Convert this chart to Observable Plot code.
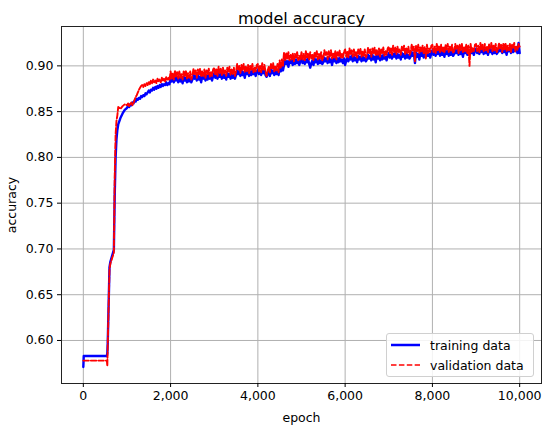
<!DOCTYPE html>
<html>
<head>
<meta charset="utf-8">
<script src="https://cdn.jsdelivr.net/npm/d3@7"></script>
<script src="https://cdn.jsdelivr.net/npm/@observablehq/plot@0.6"></script>
<style>
  html, body { margin: 0; padding: 0; background: #fff; }
  #wrap { position: relative; width: 550px; height: 432px; font-family: "DejaVu Sans", sans-serif; }
  #legend {
    position: absolute; left: 386px; top: 333px; width: 146px; height: 42px;
    border: 1px solid #d0d0d0; border-radius: 3px; background: rgba(255,255,255,0.85);
    font-size: 12.5px; color: #000;
  }
  .row { position: absolute; left: 0; height: 18px; display: flex; align-items: center; }
  .row svg { margin-left: 4px; margin-right: 10px; }
</style>
</head>
<body>
<div id="wrap"></div>
<script>
const title = "model accuracy";
const xLabel = "epoch";
const yLabel = "accuracy";
const seriesNames = ["training data", "validation data"];
const xTicks = [0, 2000, 4000, 6000, 8000, 10000];
const yTicks = [0.60, 0.65, 0.70, 0.75, 0.80, 0.85, 0.90];

// epochs: sparse at the start, then every 25 epochs
const epochsEarly = [0, 10, 540, 550, 560, 600, 620, 700, 720, 740, 760, 780, 800, 850, 900, 950];
const epochsLate = d3.range(1000, 10001, 25);
const epochs = epochsEarly.concat(epochsLate);

const trainAcc = [
  0.571, 0.583, 0.583, 0.586, 0.598, 0.680, 0.686, 0.699, 0.760, 0.800, 0.820, 0.830, 0.836, 0.843, 0.848, 0.852,
  0.854, 0.856, 0.855, 0.858, 0.857, 0.860, 0.859, 0.862, 0.861, 0.864, 0.863, 0.865, 0.864, 0.867, 0.866, 0.868, 0.867, 0.870, 0.869, 0.871,
  0.873, 0.871, 0.874, 0.873, 0.876, 0.874, 0.877, 0.875, 0.878, 0.876, 0.879, 0.877, 0.880, 0.878, 0.880, 0.879, 0.882, 0.879, 0.881, 0.880,
  0.888, 0.883, 0.886, 0.882, 0.887, 0.884, 0.888, 0.882, 0.887, 0.883, 0.886, 0.881, 0.888, 0.884, 0.887, 0.882, 0.888, 0.883, 0.886, 0.882,
  0.885, 0.890, 0.886, 0.889, 0.884, 0.890, 0.885, 0.888, 0.882, 0.889, 0.886, 0.890, 0.884, 0.889, 0.885, 0.890, 0.886, 0.888, 0.884, 0.889,
  0.892, 0.887, 0.890, 0.886, 0.891, 0.888, 0.892, 0.886, 0.891, 0.887, 0.890, 0.885, 0.892, 0.888, 0.891, 0.886, 0.892, 0.887, 0.890, 0.886,
  0.890, 0.895, 0.891, 0.894, 0.889, 0.895, 0.890, 0.893, 0.887, 0.894, 0.891, 0.895, 0.889, 0.894, 0.890, 0.895, 0.891, 0.893, 0.889, 0.894,
  0.896, 0.891, 0.894, 0.890, 0.895, 0.892, 0.896, 0.890, 0.888, 0.891, 0.894, 0.889, 0.896, 0.892, 0.895, 0.890, 0.896, 0.891, 0.894, 0.890,
  0.898, 0.894, 0.899, 0.895, 0.901, 0.907, 0.902, 0.905, 0.899, 0.906, 0.903, 0.907, 0.901, 0.906, 0.902, 0.907, 0.903, 0.905, 0.901, 0.906,
  0.908, 0.903, 0.906, 0.902, 0.907, 0.904, 0.908, 0.902, 0.898, 0.903, 0.906, 0.901, 0.908, 0.904, 0.907, 0.902, 0.908, 0.903, 0.906, 0.902,
  0.904, 0.909, 0.905, 0.908, 0.903, 0.909, 0.904, 0.907, 0.901, 0.908, 0.905, 0.909, 0.903, 0.908, 0.904, 0.909, 0.905, 0.907, 0.903, 0.908,
  0.901, 0.906, 0.909, 0.905, 0.910, 0.907, 0.911, 0.905, 0.910, 0.906, 0.909, 0.904, 0.911, 0.907, 0.910, 0.905, 0.911, 0.906, 0.909, 0.905,
  0.907, 0.912, 0.908, 0.911, 0.906, 0.912, 0.907, 0.910, 0.904, 0.911, 0.908, 0.912, 0.906, 0.911, 0.907, 0.912, 0.908, 0.910, 0.906, 0.911,
  0.914, 0.909, 0.912, 0.908, 0.913, 0.910, 0.914, 0.908, 0.913, 0.909, 0.912, 0.907, 0.914, 0.910, 0.913, 0.908, 0.914, 0.909, 0.912, 0.908,
  0.910, 0.915, 0.911, 0.914, 0.903, 0.915, 0.910, 0.913, 0.907, 0.914, 0.911, 0.915, 0.909, 0.914, 0.910, 0.915, 0.911, 0.913, 0.909, 0.914,
  0.917, 0.912, 0.915, 0.911, 0.916, 0.913, 0.917, 0.911, 0.916, 0.912, 0.915, 0.910, 0.917, 0.913, 0.916, 0.911, 0.917, 0.912, 0.915, 0.911,
  0.913, 0.918, 0.914, 0.917, 0.912, 0.918, 0.913, 0.916, 0.910, 0.917, 0.914, 0.918, 0.912, 0.917, 0.913, 0.918, 0.914, 0.916, 0.912, 0.917,
  0.919, 0.914, 0.917, 0.913, 0.918, 0.915, 0.919, 0.913, 0.918, 0.914, 0.917, 0.912, 0.919, 0.915, 0.918, 0.913, 0.919, 0.914, 0.917, 0.913,
  0.915, 0.920, 0.916, 0.919, 0.914, 0.920, 0.915, 0.918, 0.912, 0.919, 0.916, 0.920, 0.914, 0.919, 0.915, 0.920, 0.916, 0.918, 0.914, 0.925,
  0.914
];

const valAcc = [
  0.578, 0.578, 0.578, 0.572, 0.596, 0.678, 0.684, 0.696, 0.780, 0.825, 0.840, 0.846, 0.855, 0.853, 0.856, 0.858,
  0.857, 0.859, 0.856, 0.858, 0.860, 0.857, 0.859, 0.863, 0.866, 0.868, 0.871, 0.874, 0.876, 0.878, 0.879, 0.877, 0.880, 0.878, 0.881, 0.879,
  0.883, 0.880, 0.884, 0.881, 0.885, 0.882, 0.884, 0.881, 0.886, 0.883, 0.885, 0.882, 0.887, 0.884, 0.886, 0.883, 0.888, 0.885, 0.887, 0.884,
  0.894, 0.886, 0.892, 0.885, 0.895, 0.888, 0.893, 0.886, 0.894, 0.887, 0.891, 0.885, 0.894, 0.889, 0.895, 0.886, 0.892, 0.887, 0.894, 0.885,
  0.889, 0.897, 0.891, 0.895, 0.887, 0.896, 0.890, 0.897, 0.888, 0.894, 0.889, 0.896, 0.887, 0.895, 0.891, 0.897, 0.888, 0.893, 0.889, 0.896,
  0.898, 0.890, 0.896, 0.889, 0.899, 0.892, 0.897, 0.890, 0.898, 0.891, 0.895, 0.889, 0.898, 0.893, 0.899, 0.890, 0.896, 0.891, 0.898, 0.889,
  0.894, 0.902, 0.896, 0.900, 0.892, 0.901, 0.895, 0.902, 0.893, 0.899, 0.894, 0.901, 0.892, 0.900, 0.896, 0.902, 0.893, 0.898, 0.894, 0.901,
  0.902, 0.894, 0.900, 0.893, 0.903, 0.896, 0.901, 0.894, 0.889, 0.895, 0.899, 0.893, 0.902, 0.897, 0.903, 0.894, 0.900, 0.895, 0.902, 0.893,
  0.906, 0.898, 0.907, 0.900, 0.915, 0.906, 0.914, 0.908, 0.915, 0.906, 0.912, 0.907, 0.914, 0.905, 0.913, 0.909, 0.915, 0.906, 0.911, 0.907,
  0.915, 0.907, 0.913, 0.906, 0.916, 0.909, 0.914, 0.907, 0.915, 0.908, 0.912, 0.906, 0.915, 0.910, 0.916, 0.907, 0.913, 0.908, 0.915, 0.906,
  0.909, 0.917, 0.911, 0.915, 0.907, 0.916, 0.910, 0.917, 0.908, 0.914, 0.909, 0.916, 0.907, 0.915, 0.911, 0.917, 0.908, 0.913, 0.909, 0.916,
  0.918, 0.910, 0.916, 0.909, 0.919, 0.912, 0.917, 0.910, 0.918, 0.911, 0.915, 0.909, 0.918, 0.913, 0.919, 0.910, 0.916, 0.911, 0.918, 0.909,
  0.912, 0.920, 0.914, 0.918, 0.910, 0.919, 0.913, 0.920, 0.911, 0.917, 0.912, 0.919, 0.910, 0.918, 0.914, 0.920, 0.911, 0.916, 0.912, 0.919,
  0.921, 0.913, 0.919, 0.912, 0.922, 0.915, 0.920, 0.913, 0.921, 0.914, 0.918, 0.912, 0.921, 0.916, 0.922, 0.913, 0.919, 0.914, 0.921, 0.912,
  0.915, 0.923, 0.917, 0.921, 0.905, 0.922, 0.916, 0.923, 0.914, 0.920, 0.915, 0.922, 0.913, 0.921, 0.908, 0.923, 0.914, 0.919, 0.915, 0.922,
  0.923, 0.915, 0.921, 0.914, 0.924, 0.917, 0.922, 0.915, 0.923, 0.916, 0.920, 0.914, 0.923, 0.918, 0.924, 0.915, 0.921, 0.916, 0.923, 0.914,
  0.916, 0.924, 0.918, 0.922, 0.914, 0.923, 0.917, 0.924, 0.915, 0.921, 0.916, 0.923, 0.914, 0.922, 0.900, 0.924, 0.915, 0.920, 0.916, 0.923,
  0.924, 0.916, 0.922, 0.915, 0.925, 0.918, 0.923, 0.916, 0.924, 0.917, 0.921, 0.915, 0.924, 0.919, 0.925, 0.916, 0.922, 0.917, 0.924, 0.915,
  0.917, 0.925, 0.919, 0.923, 0.915, 0.924, 0.918, 0.925, 0.916, 0.922, 0.917, 0.924, 0.915, 0.923, 0.919, 0.925, 0.916, 0.921, 0.917, 0.924,
  0.921
];

const rows = epochs.map((e, i) => ({epoch: e, train: trainAcc[i], val: valAcc[i]}));

const blue = "#0000ff";
const red = "#ff0000";
const font = "DejaVu Sans, sans-serif";

const chart = Plot.plot({
  width: 550,
  height: 432,
  marginLeft: 61,
  marginRight: 9,
  marginTop: 26,
  marginBottom: 49,
  style: {fontFamily: font, fontSize: "12.5px", color: "#000", background: "#fff"},
  x: {domain: [-500, 10500]},
  y: {domain: [0.553, 0.943]},
  marks: [
    Plot.gridX(xTicks, {stroke: "#b0b0b0", strokeOpacity: 1, strokeWidth: 1}),
    Plot.gridY(yTicks, {stroke: "#b0b0b0", strokeOpacity: 1, strokeWidth: 1}),
    Plot.line(rows, {x: "epoch", y: "train", stroke: blue, strokeWidth: 2.4, strokeLinejoin: "round"}),
    Plot.line(rows, {x: "epoch", y: "val", stroke: red, strokeWidth: 1.9, strokeDasharray: "5.5,2"}),
    Plot.frame({stroke: "#222", strokeWidth: 1}),
    Plot.axisX(xTicks, {tickFormat: d3.format(","), tickSize: 4, tickPadding: 4, fontSize: 12.5,
      label: xLabel, labelAnchor: "center", labelArrow: "none", labelOffset: 38}),
    Plot.axisY(yTicks, {tickFormat: d3.format(".2f"), tickSize: 4, tickPadding: 4, fontSize: 12.5,
      label: yLabel, labelAnchor: "center", labelArrow: "none", labelOffset: 54}),
    Plot.text([title], {frameAnchor: "top", dy: -14, fontSize: 16, fill: "#000"})
  ]
});

const wrap = document.getElementById("wrap");
wrap.appendChild(chart);

const legend = document.createElement("div");
legend.id = "legend";
const styles = [
  {color: blue, width: 2.5, dash: null},
  {color: red, width: 1.4, dash: "5.5,2.4"}
];
seriesNames.forEach((name, i) => {
  const row = document.createElement("div");
  row.className = "row";
  row.style.top = (2 + i * 20) + "px";
  const s = styles[i];
  row.innerHTML = `<svg width="29" height="10"><line x1="0" x2="29" y1="5" y2="5" stroke="${s.color}" stroke-width="${s.width}" ${s.dash ? `stroke-dasharray="${s.dash}"` : ""}/></svg><span>${name}</span>`;
  legend.appendChild(row);
});
wrap.appendChild(legend);
</script>
</body>
</html>
